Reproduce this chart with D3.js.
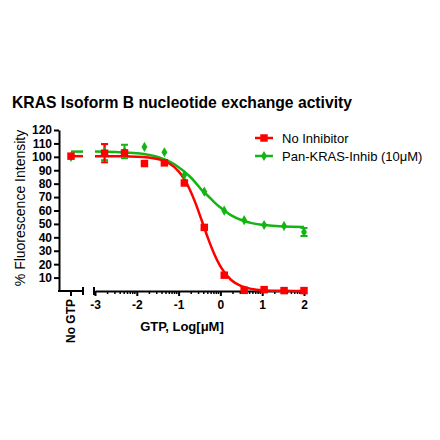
<!DOCTYPE html>
<html>
<head>
<meta charset="utf-8">
<script src="https://cdn.jsdelivr.net/npm/d3@7"></script>
<style>
  body { margin: 0; background: #fff; }
  svg text { font-family: "Liberation Sans", Arial, sans-serif; }
</style>
</head>
<body>
<div id="chart"></div>
<script>
// data
const doseLog = [-2.771, -2.294, -1.817, -1.340, -0.862, -0.385, 0.092, 0.569, 1.046, 1.523, 2.0];
const noInhib = [102.7, 102.9, 95.0, 95.5, 80.5, 47.4, 11.8, 0.5, 1.0, 0.3, 0.3];
const noInhibErr = [6.8, 0, 0, 0, 0, 0, 0, 0, 0, 0, 0];
const panInhib = [103.5, 104.0, 107.4, 103.4, 86.5, 74.0, 59.9, 52.8, 49.2, 48.5, 44.0];
const panInhibErr = [6, 5, 0, 0, 0, 0, 0, 0, 0, 0, 3];
const noGtp = {red: 100.5, green: 100.0};

// fitted curves [log dose, % intensity]
const curveX = [-3, -2.5, -2, -1.5, -1.25, -1, -0.862, -0.75, -0.6, -0.45, -0.3, -0.15, 0, 0.25, 0.5, 0.75, 1, 1.5, 2];
const noInhibFit = [100.5, 100.4, 100.1, 98.4, 95.6, 89.2, 83.3, 76.8, 65.9, 52.9, 39.6, 27.8, 18.3, 8.4, 3.6, 1.5, 0.6, 0.1, 0.0];
const panInhibFit = [103.9, 103.6, 102.7, 99.9, 96.9, 92.3, 89.0, 85.9, 81.0, 75.3, 71.0, 66.3, 62.2, 56.6, 52.9, 50.6, 49.3, 48.0, 47.7];

const yTicks = [10, 20, 30, 40, 50, 60, 70, 80, 90, 100, 110, 120];
const xTicks = [-3, -2, -1, 0, 1, 2];
const seriesNames = ["No Inhibitor", "Pan-KRAS-Inhib (10\u03bcM)"];
const colors = ["#ff0000", "#14b414"];

var W = 440, H = 440;
var svg = d3.select("#chart").append("svg")
    .attr("width", W).attr("height", H);

var y = d3.scaleLinear().domain([0, 120]).range([291, 130]);
var xLeft = d3.scaleLinear().domain([0, 1]).range([59, 83]);   // "No GTP" segment
var x = d3.scaleLinear().domain([-3, 2]).range([95, 304]);      // log segment

// title
svg.append("text")
    .attr("x", 12).attr("y", 108)
    .style("font-size", "15.7px").style("font-weight", "bold")
    .text("KRAS Isoform B nucleotide exchange activity");

// y axis
var yAxis = svg.append("g")
    .attr("transform", "translate(59,0)")
    .call(d3.axisLeft(y).tickValues(yTicks).tickSize(5).tickPadding(2).tickSizeOuter(0));
yAxis.select(".domain").attr("stroke-width", 2);
yAxis.selectAll(".tick line").attr("stroke-width", 2);
yAxis.selectAll(".tick text").style("font-size", "12px").style("font-weight", "bold")
    .style("font-family", "Liberation Sans, Arial, sans-serif").attr("fill", "#000");

svg.append("text")
    .attr("transform", "translate(25,208) rotate(-90)")
    .attr("text-anchor", "middle")
    .style("font-size", "14px")
    .text("% Fluorescence Intensity");

// x axis, left segment
var xl = svg.append("g").attr("transform", "translate(0,291)");
xl.append("line").attr("x1", 58).attr("x2", 83).attr("stroke", "#000").attr("stroke-width", 2);
xl.append("line").attr("x1", xLeft(0.5)).attr("x2", xLeft(0.5)).attr("y1", 0).attr("y2", 5)
    .attr("stroke", "#000").attr("stroke-width", 2);
xl.append("line").attr("x1", 83).attr("x2", 83).attr("y1", -4).attr("y2", 4)
    .attr("stroke", "#000").attr("stroke-width", 2);
svg.append("text")
    .attr("transform", "translate(" + (xLeft(0.5) + 4) + ",299) rotate(-90)")
    .attr("text-anchor", "end")
    .style("font-size", "12px").style("font-weight", "bold")
    .text("No GTP");

// x axis, log segment
var xAxis = svg.append("g")
    .attr("transform", "translate(0,291)")
    .call(d3.axisBottom(x).tickValues(xTicks).tickFormat(d3.format("d")).tickSize(5).tickPadding(4).tickSizeOuter(0));
xAxis.select(".domain").attr("stroke-width", 2);
xAxis.selectAll(".tick line").attr("stroke-width", 2);
xAxis.selectAll(".tick text").style("font-size", "12px").style("font-weight", "bold")
    .style("font-family", "Liberation Sans, Arial, sans-serif").attr("fill", "#000")
    .text(function(d) { return d < 0 ? "-" + Math.abs(d) : d; });

var minor = [];
xTicks.slice(0, -1).forEach(function(t) {
    d3.range(2, 10).forEach(function(k) { minor.push(t + Math.log10(k)); });
});
xAxis.selectAll(".minor").data(minor).enter().append("line")
    .attr("class", "minor")
    .attr("x1", function(d) { return x(d); }).attr("x2", function(d) { return x(d); })
    .attr("y1", 0).attr("y2", 3)
    .attr("stroke", "#000").attr("stroke-width", 1.5);
xAxis.append("line").attr("x1", 94).attr("x2", 94).attr("y1", -4).attr("y2", 4)
    .attr("stroke", "#000").attr("stroke-width", 2);

svg.append("text")
    .attr("x", 182).attr("y", 331)
    .attr("text-anchor", "middle")
    .style("font-size", "13px").style("font-weight", "bold")
    .text("GTP, Log[\u03bcM]");

// curves
var line = d3.line()
    .x(function(d) { return x(d[0]); })
    .y(function(d) { return y(d[1]); })
    .curve(d3.curveMonotoneX);

var fits = [noInhibFit, panInhibFit];
var means = [noInhib, panInhib];
var errs = [noInhibErr, panInhibErr];
var noGtpVals = [noGtp.red, noGtp.green];

[1, 0].forEach(function(s) {
    svg.append("path")
        .attr("d", line(curveX.map(function(c, i) { return [c, fits[s][i]]; })))
        .attr("fill", "none").attr("stroke", colors[s]).attr("stroke-width", 2.5);
    svg.append("line")
        .attr("x1", xLeft(0.5)).attr("x2", 83)
        .attr("y1", y(fits[s][0])).attr("y2", y(fits[s][0]))
        .attr("stroke", colors[s]).attr("stroke-width", 2.5);
});

// error bars
[1, 0].forEach(function(s) {
    var g = svg.append("g").attr("stroke", colors[s]).attr("stroke-width", 2);
    doseLog.forEach(function(d, i) {
        var e = errs[s][i];
        if (!e) return;
        var cx = x(d), y1 = y(means[s][i] + e), y2 = y(means[s][i] - e);
        g.append("line").attr("x1", cx).attr("x2", cx).attr("y1", y1).attr("y2", y2);
        g.append("line").attr("x1", cx - 3.5).attr("x2", cx + 3.5).attr("y1", y1).attr("y2", y1);
        g.append("line").attr("x1", cx - 3.5).attr("x2", cx + 3.5).attr("y1", y2).attr("y2", y2);
    });
});

// markers
var diamond = d3.symbol().type(d3.symbolDiamond).size(30);
var square = d3.symbol().type(d3.symbolSquare).size(56);

svg.append("path").attr("d", diamond)
    .attr("transform", "translate(" + xLeft(0.5) + "," + y(noGtpVals[1]) + ")")
    .attr("fill", colors[1]);
svg.selectAll(".gpt").data(doseLog).enter().append("path")
    .attr("d", diamond)
    .attr("transform", function(d, i) { return "translate(" + x(d) + "," + y(panInhib[i]) + ")"; })
    .attr("fill", colors[1]);

svg.append("path").attr("d", square)
    .attr("transform", "translate(" + xLeft(0.5) + "," + y(noGtpVals[0]) + ")")
    .attr("fill", colors[0]);
svg.selectAll(".rpt").data(doseLog).enter().append("path")
    .attr("d", square)
    .attr("transform", function(d, i) { return "translate(" + x(d) + "," + y(noInhib[i]) + ")"; })
    .attr("fill", colors[0]);

// legend
var legend = svg.append("g").attr("transform", "translate(255,138)");
seriesNames.forEach(function(name, i) {
    var row = legend.append("g").attr("transform", "translate(0," + (i * 18) + ")");
    row.append("line").attr("x1", 0).attr("x2", 18).attr("stroke", colors[i]).attr("stroke-width", 2.5);
    row.append("path").attr("d", i === 0 ? square : diamond)
        .attr("transform", "translate(9,0)").attr("fill", colors[i]);
    row.append("text").attr("x", 27).attr("y", 4.5)
        .style("font-size", "13px")
        .text(name);
});
</script>
</body>
</html>
